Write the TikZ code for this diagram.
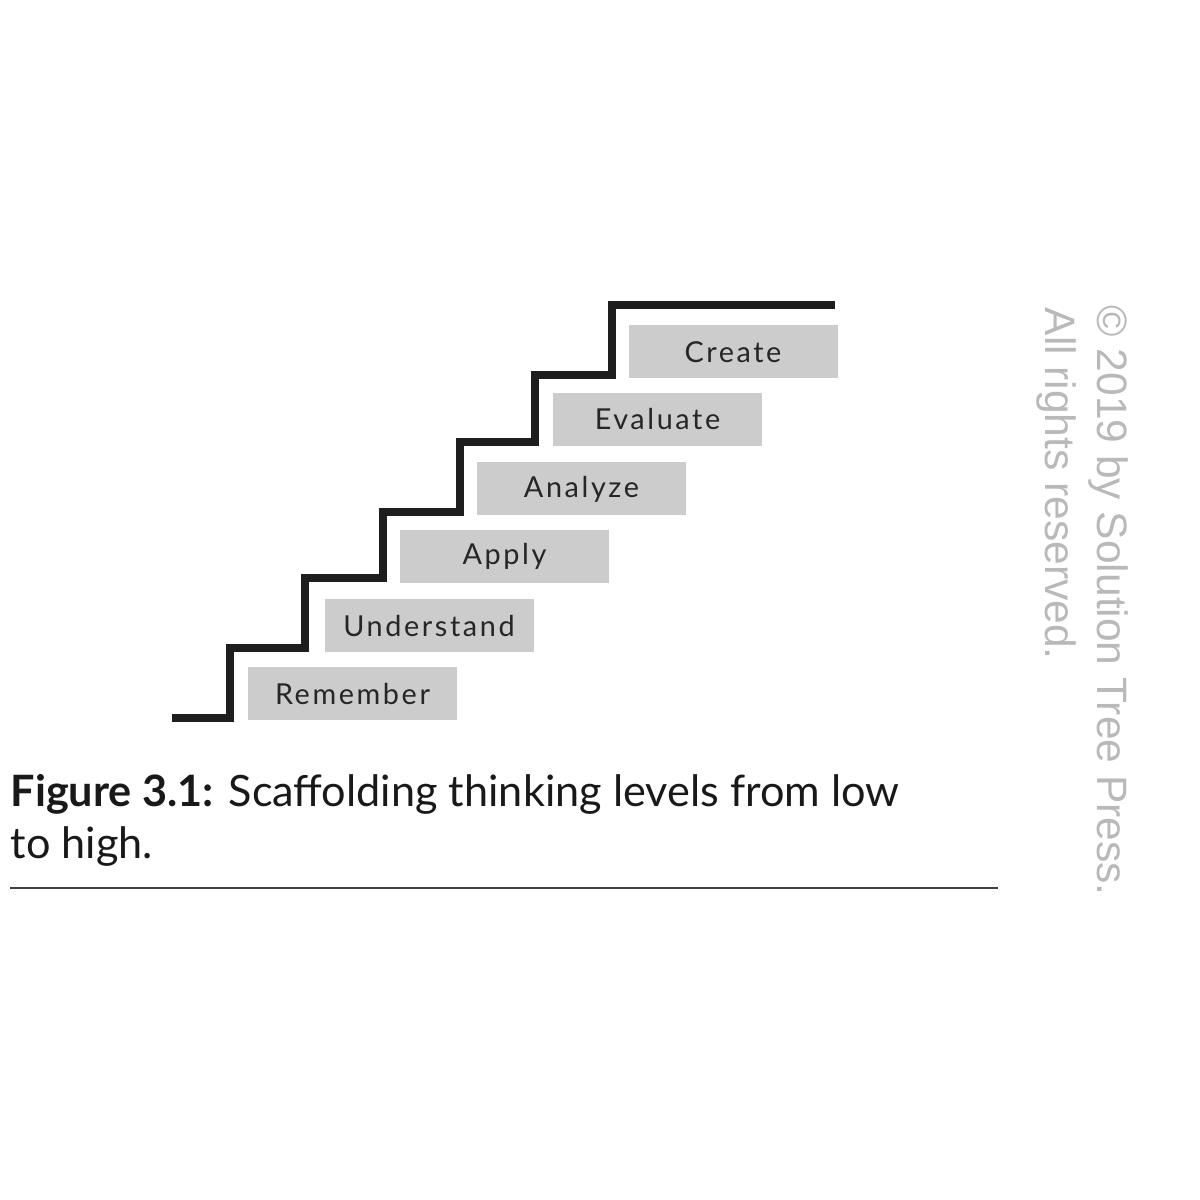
\documentclass[tikz,border=0pt]{standalone}
\usepackage{fontspec}
\setmainfont{Lato}
\newfontfamily\stepfont[LetterSpace=9]{Lato}
\newfontfamily\notefont{Liberation Sans}
\definecolor{stepgray}{RGB}{204,204,204}
\definecolor{stairblack}{RGB}{30,30,30}
\definecolor{notegray}{RGB}{185,185,185}
\tikzset{
  stepbox/.style={fill=stepgray, minimum width=2.09cm, minimum height=0.53cm, inner sep=0pt, text=black!85, font=\stepfont\fontsize{8.2}{10}\selectfont},
  stair/.style={stairblack, line width=2pt, line join=miter},
  note/.style={notegray, rotate=-90, anchor=base west, inner sep=0pt, font=\notefont\fontsize{12.1}{14}\selectfont}
}

\begin{document}
\begin{tikzpicture}
\useasboundingbox (0,0) rectangle (12,12);
\draw[stair] (1.72,4.82) -- (2.30,4.82) -- (2.30,5.52) -- (3.05,5.52) -- (3.05,6.22) -- (3.83,6.22) -- (3.83,6.88) -- (4.60,6.88) -- (4.60,7.58) -- (5.35,7.58) -- (5.35,8.25) -- (6.12,8.25) -- (6.12,8.95) -- (8.35,8.95);
\node[stepbox] (remember) at (3.525,5.065) {Remember};
\node[stepbox] (understand) at (4.29,5.74) {Understand};
\node[stepbox] (apply) at (5.045,6.435) {Apply};
\node[stepbox] (analyze) at (5.815,7.11) {Analyze};
\node[stepbox] (evaluate) at (6.575,7.805) {Evaluate};
\node[stepbox] (create) at (7.33,8.48) {Create};
\node[anchor=base west, align=left, inner sep=0pt, text=black!90, font=\fontsize{12.3}{15}\selectfont] (caption) at (0.10,3.41) {\textbf{Figure 3.1:} Scaffolding thinking levels from low\\to high.};
\draw[line width=0.7pt, black!75] (0.10,3.12) -- (9.98,3.12);
\node[note] (copyright) at (10.97,8.95) {\textcopyright{} 2019 by Solution Tree Press.};
\node[note] (rights) at (10.45,8.93) {All rights reserved.};
\end{tikzpicture}
\end{document}
